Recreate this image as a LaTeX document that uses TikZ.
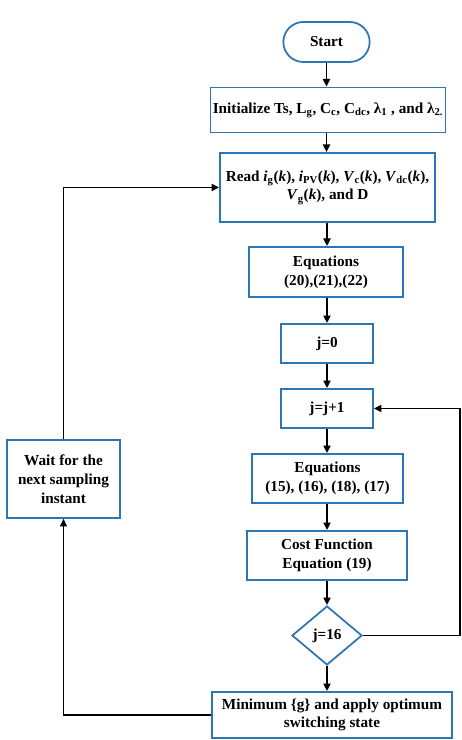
\documentclass[tikz,border=0pt]{standalone}
\usepackage{fontspec}
\setmainfont{Liberation Serif}
\usepackage{tikz}
\usetikzlibrary{arrows.meta, shapes.geometric, shapes.misc}

\definecolor{boxblue}{RGB}{46,117,182}

\begin{document}
\begin{tikzpicture}[scale=1,
        box/.style={draw=boxblue, line width=1.5pt, fill=white, align=center,
          font=\fontsize{13}{16}\selectfont\bfseries, inner sep=2pt},
        arr/.style={-{Triangle[length=6.5pt,width=6pt]}, line width=1.5pt}]

        \useasboundingbox (0,0) rectangle (13.86,22.2);

% Start
        \node[box, rounded rectangle, minimum width=2.73cm, minimum height=1.2cm]
          (start) at (9.795,20.94) {Start};

% Main column
        \node[box, minimum width=7.02cm, minimum height=1.35cm] (init) at (9.84,18.9)
          {Initialize Ts, L\textsubscript{g}, C\textsubscript{c}, C\textsubscript{dc}, λ\textsubscript{1} , and λ\textsubscript{2.}};
        \node[box, minimum width=6.45cm, minimum height=2.07cm] (read) at (9.825,16.575)
          {Read \textit{i}\textsubscript{g}(\textit{k}), \textit{i}\textsubscript{PV}(\textit{k}), \textit{V}\textsubscript{c}(\textit{k}), \textit{V}\textsubscript{dc}(\textit{k}),\\
           \textit{V}\textsubscript{g}(\textit{k}), and D};
        \node[box, minimum width=4.62cm, minimum height=1.5cm] (eqa) at (9.78,14.04)
          {Equations\\(20),(21),(22)};
        \node[box, minimum width=2.76cm, minimum height=1.17cm] (jzero) at (9.81,11.895) {j=0};
        \node[box, minimum width=2.76cm, minimum height=1.17cm] (jinc) at (9.81,9.945) {j=j+1};
        \node[box, minimum width=4.53cm, minimum height=1.47cm] (eqb) at (9.825,7.845)
          {Equations\\(15), (16), (18), (17)};
        \node[box, minimum width=4.8cm, minimum height=1.47cm] (cost) at (9.81,5.535)
          {Cost Function\\Equation (19)};
        \node[box, diamond, inner sep=0pt, minimum width=2.1cm, minimum height=1.77cm]
          (check) at (9.81,3.135) {j=16};
        \node[box, minimum width=7.2cm, minimum height=1.38cm] (best) at (9.96,0.75)
          {Minimum \{g\} and apply optimum\\switching state};

% Wait box
        \node[box, minimum width=3.39cm, minimum height=2.34cm] (wait) at (1.905,7.83)
          {Wait for the\\next sampling\\instant};

% Arrows
        \draw[arr] (start.south) -- (start.south |- init.north);
        \draw[arr] (init.south -| start) -- (start |- read.north);
        \draw[arr] (read.south -| jzero) -- (jzero |- eqa.north);
        \draw[arr] (eqa.south -| jzero) -- (jzero.north);
        \draw[arr] (jzero) -- (jinc);
        \draw[arr] (jinc) -- (jinc |- eqb.north);
        \draw[arr] (eqb.south -| jinc) -- (jinc |- cost.north);
        \draw[arr] (cost.south -| jinc) -- (check.north);
        \draw[arr] (check.south) -- (check.south |- best.north);

% Loops
        \coordinate (rgt) at (13.8,0);
        \draw[arr] (check.east) -- (check.east -| rgt) |- (jinc.east);
        \draw[arr, line width=1.2pt] (best.west) -| (wait.south);
        \draw[arr] (wait.north) |- (read.west);

      \end{tikzpicture}
\end{document}
